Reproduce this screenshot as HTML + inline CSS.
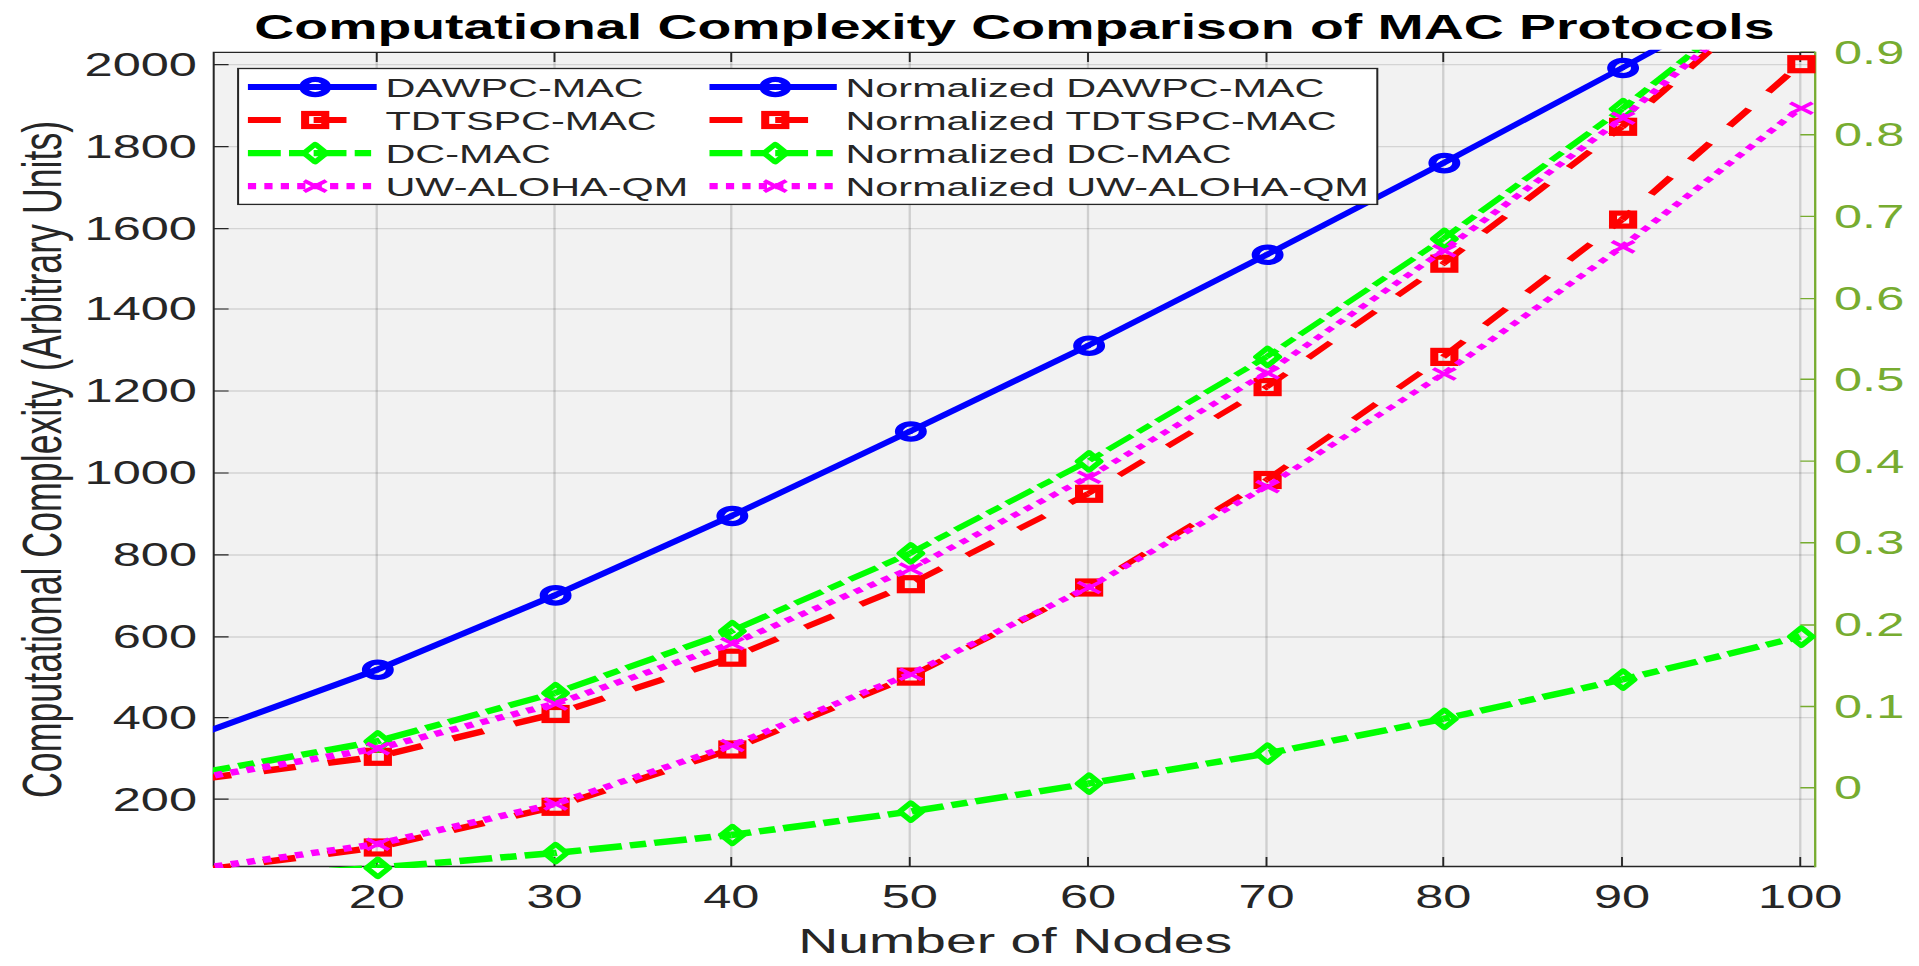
<!DOCTYPE html>
<html lang="en"><head><meta charset="utf-8"><title>Computational Complexity Comparison of MAC Protocols</title>
<style>html,body{margin:0;padding:0;background:#fff;overflow:hidden}svg{display:block}text{font-family:"Liberation Sans",Arial,sans-serif}</style></head><body>
<svg width="1919" height="966" viewBox="0 0 1919 966">
<rect x="0" y="0" width="1919" height="966" fill="#ffffff"/>
<g transform="scale(1.55,1)">
<rect x="137.87" y="52.3" width="1033.23" height="814.20" fill="#f2f2f2"/>
<path d="M243.06 52.3 V866.5 M357.74 52.3 V866.5 M471.77 52.3 V866.5 M586.94 52.3 V866.5 M701.94 52.3 V866.5 M817.10 52.3 V866.5 M931.13 52.3 V866.5 M1046.45 52.3 V866.5 M1161.45 52.3 V866.5" stroke="#262626" stroke-opacity="0.17" stroke-width="1.5" fill="none"/>
<path d="M137.87 799.20 H1171.10 M137.87 717.60 H1171.10 M137.87 636.90 H1171.10 M137.87 554.90 H1171.10 M137.87 473.00 H1171.10 M137.87 391.00 H1171.10 M137.87 309.00 H1171.10 M137.87 228.60 H1171.10 M137.87 146.60 H1171.10 M137.87 64.60 H1171.10" stroke="#262626" stroke-opacity="0.14" stroke-width="1.45" fill="none"/>
<clipPath id="clip"><rect x="137.37" y="49.8" width="1034.23" height="818.20"/></clipPath>
<path d="M243.06 866.5 v-9.6 M243.06 52.3 v9.6 M357.74 866.5 v-9.6 M357.74 52.3 v9.6 M471.77 866.5 v-9.6 M471.77 52.3 v9.6 M586.94 866.5 v-9.6 M586.94 52.3 v9.6 M701.94 866.5 v-9.6 M701.94 52.3 v9.6 M817.10 866.5 v-9.6 M817.10 52.3 v9.6 M931.13 866.5 v-9.6 M931.13 52.3 v9.6 M1046.45 866.5 v-9.6 M1046.45 52.3 v9.6 M1161.45 866.5 v-9.6 M1161.45 52.3 v9.6 M137.87 799.20 h9.6 M137.87 717.60 h9.6 M137.87 636.90 h9.6 M137.87 554.90 h9.6 M137.87 473.00 h9.6 M137.87 391.00 h9.6 M137.87 309.00 h9.6 M137.87 228.60 h9.6 M137.87 146.60 h9.6 M137.87 64.60 h9.6" stroke="#262626" stroke-width="1.2" fill="none"/>
<path d="M1171.10 787.70 h-9.6 M1171.10 706.50 h-9.6 M1171.10 625.00 h-9.6 M1171.10 542.80 h-9.6 M1171.10 461.10 h-9.6 M1171.10 379.30 h-9.6 M1171.10 298.60 h-9.6 M1171.10 216.40 h-9.6 M1171.10 134.70 h-9.6 M1171.10 52.20 h-9.6" stroke="#77ac30" stroke-width="1.4" fill="none"/>
<path d="M137.87 866.5 V52.3 H1171.10" stroke="#262626" stroke-width="1.3" fill="none"/>
<path d="M137.87 866.5 H1171.10" stroke="#262626" stroke-width="1.6" fill="none"/>
<path d="M1171.10 51.8 V867.3" stroke="#77ac30" stroke-width="1.5" fill="none"/>
<g clip-path="url(#clip)">
<path d="M127.70 734.89 L243.59 669.51" fill="none" stroke="#0000ff" stroke-width="5.75"/>
<path d="M242.56 670.13 L358.25 595.07" fill="none" stroke="#0000ff" stroke-width="5.54"/>
<path d="M357.25 595.74 L472.27 515.66" fill="none" stroke="#0000ff" stroke-width="5.42"/>
<path d="M471.29 516.35 L587.42 431.15" fill="none" stroke="#0000ff" stroke-width="5.32"/>
<path d="M586.45 431.86 L702.42 345.34" fill="none" stroke="#0000ff" stroke-width="5.29"/>
<path d="M701.46 346.07 L817.57 254.43" fill="none" stroke="#0000ff" stroke-width="5.18"/>
<path d="M816.63 255.18 L931.60 162.72" fill="none" stroke="#0000ff" stroke-width="5.14"/>
<path d="M930.67 163.48 L1046.91 67.62" fill="none" stroke="#0000ff" stroke-width="5.09"/>
<path d="M1045.99 68.39 L1161.91 -30.39" fill="none" stroke="#0000ff" stroke-width="5.02"/>
</g>
<circle cx="243.77" cy="669.80" r="7.7" fill="none" stroke="#0000ff" stroke-width="5.2"/>
<circle cx="358.45" cy="595.40" r="7.7" fill="none" stroke="#0000ff" stroke-width="5.2"/>
<circle cx="472.48" cy="516.00" r="7.7" fill="none" stroke="#0000ff" stroke-width="5.2"/>
<circle cx="587.65" cy="431.50" r="7.7" fill="none" stroke="#0000ff" stroke-width="5.2"/>
<circle cx="702.65" cy="345.70" r="7.7" fill="none" stroke="#0000ff" stroke-width="5.2"/>
<circle cx="817.81" cy="254.80" r="7.7" fill="none" stroke="#0000ff" stroke-width="5.2"/>
<circle cx="931.84" cy="163.10" r="7.7" fill="none" stroke="#0000ff" stroke-width="5.2"/>
<circle cx="1047.16" cy="68.00" r="7.7" fill="none" stroke="#0000ff" stroke-width="5.2"/>
<g clip-path="url(#clip)">
<path d="M128.23 779.00 L243.06 756.80" fill="none" stroke="#ff0000" stroke-width="6.48" stroke-dasharray="21.20 21.20" stroke-dashoffset="0.00"/>
<path d="M243.06 756.80 L357.74 714.00" fill="none" stroke="#ff0000" stroke-width="6.18" stroke-dasharray="21.20 21.20" stroke-dashoffset="32.45"/>
<path d="M357.74 714.00 L471.77 657.70" fill="none" stroke="#ff0000" stroke-width="5.92" stroke-dasharray="21.20 21.20" stroke-dashoffset="27.94"/>
<path d="M471.77 657.70 L586.94 584.20" fill="none" stroke="#ff0000" stroke-width="5.56" stroke-dasharray="21.20 21.20" stroke-dashoffset="28.22"/>
<path d="M586.94 584.20 L701.94 493.80" fill="none" stroke="#ff0000" stroke-width="5.19" stroke-dasharray="21.20 21.20" stroke-dashoffset="37.97"/>
<path d="M701.94 493.80 L817.10 387.10" fill="none" stroke="#ff0000" stroke-width="4.84" stroke-dasharray="21.20 21.20" stroke-dashoffset="15.00"/>
<path d="M817.10 387.10 L931.13 263.70" fill="none" stroke="#ff0000" stroke-width="4.85" stroke-dasharray="21.20 21.20" stroke-dashoffset="2.77"/>
<path d="M931.13 263.70 L1046.45 126.80" fill="none" stroke="#ff0000" stroke-width="5.05" stroke-dasharray="21.20 21.20" stroke-dashoffset="1.59"/>
<path d="M1046.45 126.80 L1161.45 -28.00" fill="none" stroke="#ff0000" stroke-width="5.30" stroke-dasharray="21.20 21.20" stroke-dashoffset="11.42"/>
</g>
<rect x="237.27" y="750.30" width="13.0" height="13.0" fill="none" stroke="#ff0000" stroke-width="5.2"/>
<rect x="351.95" y="707.50" width="13.0" height="13.0" fill="none" stroke="#ff0000" stroke-width="5.2"/>
<rect x="465.98" y="651.20" width="13.0" height="13.0" fill="none" stroke="#ff0000" stroke-width="5.2"/>
<rect x="581.15" y="577.70" width="13.0" height="13.0" fill="none" stroke="#ff0000" stroke-width="5.2"/>
<rect x="696.15" y="487.30" width="13.0" height="13.0" fill="none" stroke="#ff0000" stroke-width="5.2"/>
<rect x="811.31" y="380.60" width="13.0" height="13.0" fill="none" stroke="#ff0000" stroke-width="5.2"/>
<rect x="925.34" y="257.20" width="13.0" height="13.0" fill="none" stroke="#ff0000" stroke-width="5.2"/>
<rect x="1040.66" y="120.30" width="13.0" height="13.0" fill="none" stroke="#ff0000" stroke-width="5.2"/>
<g clip-path="url(#clip)">
<path d="M128.23 773.10 L243.06 741.40" fill="none" stroke="#00ff00" stroke-width="6.36" stroke-dasharray="21.20 5.30 10.60 5.30" stroke-dashoffset="0.00"/>
<path d="M243.06 741.40 L357.74 693.20" fill="none" stroke="#00ff00" stroke-width="6.08" stroke-dasharray="21.20 5.30 10.60 5.30" stroke-dashoffset="34.62"/>
<path d="M357.74 693.20 L471.77 631.20" fill="none" stroke="#00ff00" stroke-width="5.80" stroke-dasharray="21.20 5.30 10.60 5.30" stroke-dashoffset="32.11"/>
<path d="M471.77 631.20 L586.94 553.40" fill="none" stroke="#00ff00" stroke-width="5.47" stroke-dasharray="21.20 5.30 10.60 5.30" stroke-dashoffset="35.02"/>
<path d="M586.94 553.40 L701.94 461.30" fill="none" stroke="#00ff00" stroke-width="5.15" stroke-dasharray="21.20 5.30 10.60 5.30" stroke-dashoffset="4.73"/>
<path d="M701.94 461.30 L817.10 356.90" fill="none" stroke="#00ff00" stroke-width="4.89" stroke-dasharray="21.20 5.30 10.60 5.30" stroke-dashoffset="25.22"/>
<path d="M817.10 356.90 L931.13 238.80" fill="none" stroke="#00ff00" stroke-width="4.75" stroke-dasharray="21.20 5.30 10.60 5.30" stroke-dashoffset="11.43"/>
<path d="M931.13 238.80 L1046.45 109.00" fill="none" stroke="#00ff00" stroke-width="4.93" stroke-dasharray="21.20 5.30 10.60 5.30" stroke-dashoffset="6.40"/>
<path d="M1046.45 109.00 L1161.45 -33.00" fill="none" stroke="#00ff00" stroke-width="5.13" stroke-dasharray="21.20 5.30 10.60 5.30" stroke-dashoffset="10.84"/>
</g>
<path d="M243.77 732.40 L250.97 741.40 L243.77 750.40 L236.57 741.40 Z" fill="none" stroke="#00ff00" stroke-width="4.4" stroke-linejoin="round"/>
<path d="M358.45 684.20 L365.65 693.20 L358.45 702.20 L351.25 693.20 Z" fill="none" stroke="#00ff00" stroke-width="4.4" stroke-linejoin="round"/>
<path d="M472.48 622.20 L479.68 631.20 L472.48 640.20 L465.28 631.20 Z" fill="none" stroke="#00ff00" stroke-width="4.4" stroke-linejoin="round"/>
<path d="M587.65 544.40 L594.85 553.40 L587.65 562.40 L580.45 553.40 Z" fill="none" stroke="#00ff00" stroke-width="4.4" stroke-linejoin="round"/>
<path d="M702.65 452.30 L709.85 461.30 L702.65 470.30 L695.45 461.30 Z" fill="none" stroke="#00ff00" stroke-width="4.4" stroke-linejoin="round"/>
<path d="M817.81 347.90 L825.01 356.90 L817.81 365.90 L810.61 356.90 Z" fill="none" stroke="#00ff00" stroke-width="4.4" stroke-linejoin="round"/>
<path d="M931.84 229.80 L939.04 238.80 L931.84 247.80 L924.64 238.80 Z" fill="none" stroke="#00ff00" stroke-width="4.4" stroke-linejoin="round"/>
<path d="M1047.16 100.00 L1054.36 109.00 L1047.16 118.00 L1039.96 109.00 Z" fill="none" stroke="#00ff00" stroke-width="4.4" stroke-linejoin="round"/>
<g clip-path="url(#clip)">
<path d="M128.23 777.90 L243.06 748.60" fill="none" stroke="#ff00ff" stroke-width="6.40" stroke-dasharray="5.30 5.30" stroke-dashoffset="0.00"/>
<path d="M243.06 748.60 L357.74 704.00" fill="none" stroke="#ff00ff" stroke-width="6.15" stroke-dasharray="5.30 5.30" stroke-dashoffset="2.20"/>
<path d="M357.74 704.00 L471.77 643.80" fill="none" stroke="#ff00ff" stroke-width="5.84" stroke-dasharray="5.30 5.30" stroke-dashoffset="8.94"/>
<path d="M471.77 643.80 L586.94 569.00" fill="none" stroke="#ff00ff" stroke-width="5.53" stroke-dasharray="5.30 5.30" stroke-dashoffset="0.40"/>
<path d="M586.94 569.00 L701.94 477.20" fill="none" stroke="#ff00ff" stroke-width="5.16" stroke-dasharray="5.30 5.30" stroke-dashoffset="0.25"/>
<path d="M701.94 477.20 L817.10 373.00" fill="none" stroke="#ff00ff" stroke-width="4.89" stroke-dasharray="5.30 5.30" stroke-dashoffset="9.95"/>
<path d="M817.10 373.00 L931.13 250.70" fill="none" stroke="#ff00ff" stroke-width="4.83" stroke-dasharray="5.30 5.30" stroke-dashoffset="6.63"/>
<path d="M931.13 250.70 L1046.45 118.30" fill="none" stroke="#ff00ff" stroke-width="4.98" stroke-dasharray="5.30 5.30" stroke-dashoffset="4.64"/>
<path d="M1046.45 118.30 L1161.45 -30.00" fill="none" stroke="#ff00ff" stroke-width="5.22" stroke-dasharray="5.30 5.30" stroke-dashoffset="0.45"/>
</g>
<path d="M236.67 743.10 L250.87 754.10 M236.67 754.10 L250.87 743.10" fill="none" stroke="#ff00ff" stroke-width="3.3"/>
<path d="M351.35 698.50 L365.55 709.50 M351.35 709.50 L365.55 698.50" fill="none" stroke="#ff00ff" stroke-width="3.3"/>
<path d="M465.38 638.30 L479.58 649.30 M465.38 649.30 L479.58 638.30" fill="none" stroke="#ff00ff" stroke-width="3.3"/>
<path d="M580.55 563.50 L594.75 574.50 M580.55 574.50 L594.75 563.50" fill="none" stroke="#ff00ff" stroke-width="3.3"/>
<path d="M695.55 471.70 L709.75 482.70 M695.55 482.70 L709.75 471.70" fill="none" stroke="#ff00ff" stroke-width="3.3"/>
<path d="M810.71 367.50 L824.91 378.50 M810.71 378.50 L824.91 367.50" fill="none" stroke="#ff00ff" stroke-width="3.3"/>
<path d="M924.74 245.20 L938.94 256.20 M924.74 256.20 L938.94 245.20" fill="none" stroke="#ff00ff" stroke-width="3.3"/>
<path d="M1040.06 112.80 L1054.26 123.80 M1040.06 123.80 L1054.26 112.80" fill="none" stroke="#ff00ff" stroke-width="3.3"/>
<g clip-path="url(#clip)">
<path d="M128.23 870.50 L243.06 847.50" fill="none" stroke="#ff0000" stroke-width="6.47" stroke-dasharray="21.20 21.20" stroke-dashoffset="0.00"/>
<path d="M243.06 847.50 L357.74 806.80" fill="none" stroke="#ff0000" stroke-width="6.22" stroke-dasharray="21.20 21.20" stroke-dashoffset="32.60"/>
<path d="M357.74 806.80 L471.77 749.50" fill="none" stroke="#ff0000" stroke-width="5.90" stroke-dasharray="21.20 21.20" stroke-dashoffset="27.38"/>
<path d="M471.77 749.50 L586.94 676.60" fill="none" stroke="#ff0000" stroke-width="5.58" stroke-dasharray="21.20 21.20" stroke-dashoffset="28.10"/>
<path d="M586.94 676.60 L701.94 587.50" fill="none" stroke="#ff0000" stroke-width="5.22" stroke-dasharray="21.20 21.20" stroke-dashoffset="37.53"/>
<path d="M701.94 587.50 L817.10 480.00" fill="none" stroke="#ff0000" stroke-width="4.82" stroke-dasharray="21.20 21.20" stroke-dashoffset="13.75"/>
<path d="M817.10 480.00 L931.13 356.90" fill="none" stroke="#ff0000" stroke-width="4.84" stroke-dasharray="21.20 21.20" stroke-dashoffset="2.07"/>
<path d="M931.13 356.90 L1046.45 219.60" fill="none" stroke="#ff0000" stroke-width="5.05" stroke-dasharray="21.20 21.20" stroke-dashoffset="0.67"/>
<path d="M1046.45 219.60 L1161.45 64.20" fill="none" stroke="#ff0000" stroke-width="5.31" stroke-dasharray="21.20 21.20" stroke-dashoffset="10.81"/>
</g>
<rect x="237.27" y="841.00" width="13.0" height="13.0" fill="none" stroke="#ff0000" stroke-width="5.2"/>
<rect x="351.95" y="800.30" width="13.0" height="13.0" fill="none" stroke="#ff0000" stroke-width="5.2"/>
<rect x="465.98" y="743.00" width="13.0" height="13.0" fill="none" stroke="#ff0000" stroke-width="5.2"/>
<rect x="581.15" y="670.10" width="13.0" height="13.0" fill="none" stroke="#ff0000" stroke-width="5.2"/>
<rect x="696.15" y="581.00" width="13.0" height="13.0" fill="none" stroke="#ff0000" stroke-width="5.2"/>
<rect x="811.31" y="473.50" width="13.0" height="13.0" fill="none" stroke="#ff0000" stroke-width="5.2"/>
<rect x="925.34" y="350.40" width="13.0" height="13.0" fill="none" stroke="#ff0000" stroke-width="5.2"/>
<rect x="1040.66" y="213.10" width="13.0" height="13.0" fill="none" stroke="#ff0000" stroke-width="5.2"/>
<rect x="1155.66" y="57.70" width="13.0" height="13.0" fill="none" stroke="#ff0000" stroke-width="5.2"/>
<g clip-path="url(#clip)">
<path d="M128.23 880.00 L243.06 867.80" fill="none" stroke="#00ff00" stroke-width="6.56" stroke-dasharray="21.20 5.30 10.60 5.30" stroke-dashoffset="0.00"/>
<path d="M243.06 867.80 L357.74 853.10" fill="none" stroke="#00ff00" stroke-width="6.55" stroke-dasharray="21.20 5.30 10.60 5.30" stroke-dashoffset="30.96"/>
<path d="M357.74 853.10 L471.77 835.00" fill="none" stroke="#00ff00" stroke-width="6.52" stroke-dasharray="21.20 5.30 10.60 5.30" stroke-dashoffset="19.66"/>
<path d="M471.77 835.00 L586.94 811.70" fill="none" stroke="#00ff00" stroke-width="6.47" stroke-dasharray="21.20 5.30 10.60 5.30" stroke-dashoffset="8.19"/>
<path d="M586.94 811.70 L701.94 783.60" fill="none" stroke="#00ff00" stroke-width="6.41" stroke-dasharray="21.20 5.30 10.60 5.30" stroke-dashoffset="41.17"/>
<path d="M701.94 783.60 L817.10 753.60" fill="none" stroke="#00ff00" stroke-width="6.39" stroke-dasharray="21.20 5.30 10.60 5.30" stroke-dashoffset="32.64"/>
<path d="M817.10 753.60 L931.13 718.90" fill="none" stroke="#00ff00" stroke-width="6.31" stroke-dasharray="21.20 5.30 10.60 5.30" stroke-dashoffset="24.73"/>
<path d="M931.13 718.90 L1046.45 679.60" fill="none" stroke="#00ff00" stroke-width="6.25" stroke-dasharray="21.20 5.30 10.60 5.30" stroke-dashoffset="17.01"/>
<path d="M1046.45 679.60 L1161.45 636.70" fill="none" stroke="#00ff00" stroke-width="6.18" stroke-dasharray="21.20 5.30 10.60 5.30" stroke-dashoffset="11.94"/>
</g>
<path d="M243.77 858.80 L250.97 867.80 L243.77 876.80 L236.57 867.80 Z" fill="none" stroke="#00ff00" stroke-width="4.4" stroke-linejoin="round"/>
<path d="M358.45 844.10 L365.65 853.10 L358.45 862.10 L351.25 853.10 Z" fill="none" stroke="#00ff00" stroke-width="4.4" stroke-linejoin="round"/>
<path d="M472.48 826.00 L479.68 835.00 L472.48 844.00 L465.28 835.00 Z" fill="none" stroke="#00ff00" stroke-width="4.4" stroke-linejoin="round"/>
<path d="M587.65 802.70 L594.85 811.70 L587.65 820.70 L580.45 811.70 Z" fill="none" stroke="#00ff00" stroke-width="4.4" stroke-linejoin="round"/>
<path d="M702.65 774.60 L709.85 783.60 L702.65 792.60 L695.45 783.60 Z" fill="none" stroke="#00ff00" stroke-width="4.4" stroke-linejoin="round"/>
<path d="M817.81 744.60 L825.01 753.60 L817.81 762.60 L810.61 753.60 Z" fill="none" stroke="#00ff00" stroke-width="4.4" stroke-linejoin="round"/>
<path d="M931.84 709.90 L939.04 718.90 L931.84 727.90 L924.64 718.90 Z" fill="none" stroke="#00ff00" stroke-width="4.4" stroke-linejoin="round"/>
<path d="M1047.16 670.60 L1054.36 679.60 L1047.16 688.60 L1039.96 679.60 Z" fill="none" stroke="#00ff00" stroke-width="4.4" stroke-linejoin="round"/>
<path d="M1162.16 627.70 L1169.36 636.70 L1162.16 645.70 L1154.96 636.70 Z" fill="none" stroke="#00ff00" stroke-width="4.4" stroke-linejoin="round"/>
<g clip-path="url(#clip)">
<path d="M128.23 868.70 L243.06 844.20" fill="none" stroke="#ff00ff" stroke-width="6.45" stroke-dasharray="5.30 5.30" stroke-dashoffset="0.00"/>
<path d="M243.06 844.20 L357.74 804.00" fill="none" stroke="#ff00ff" stroke-width="6.23" stroke-dasharray="5.30 5.30" stroke-dashoffset="1.10"/>
<path d="M357.74 804.00 L471.77 745.50" fill="none" stroke="#ff00ff" stroke-width="5.87" stroke-dasharray="5.30 5.30" stroke-dashoffset="6.32"/>
<path d="M471.77 745.50 L586.94 674.30" fill="none" stroke="#ff00ff" stroke-width="5.61" stroke-dasharray="5.30 5.30" stroke-dashoffset="7.59"/>
<path d="M586.94 674.30 L701.94 587.50" fill="none" stroke="#ff00ff" stroke-width="5.27" stroke-dasharray="5.30 5.30" stroke-dashoffset="5.50"/>
<path d="M701.94 587.50 L817.10 486.60" fill="none" stroke="#ff00ff" stroke-width="4.96" stroke-dasharray="5.30 5.30" stroke-dashoffset="1.53"/>
<path d="M817.10 486.60 L931.13 374.00" fill="none" stroke="#ff00ff" stroke-width="4.70" stroke-dasharray="5.30 5.30" stroke-dashoffset="6.61"/>
<path d="M931.13 374.00 L1046.45 246.90" fill="none" stroke="#ff00ff" stroke-width="4.89" stroke-dasharray="5.30 5.30" stroke-dashoffset="8.25"/>
<path d="M1046.45 246.90 L1161.45 108.20" fill="none" stroke="#ff00ff" stroke-width="5.08" stroke-dasharray="5.30 5.30" stroke-dashoffset="0.08"/>
</g>
<path d="M236.67 838.70 L250.87 849.70 M236.67 849.70 L250.87 838.70" fill="none" stroke="#ff00ff" stroke-width="3.3"/>
<path d="M351.35 798.50 L365.55 809.50 M351.35 809.50 L365.55 798.50" fill="none" stroke="#ff00ff" stroke-width="3.3"/>
<path d="M465.38 740.00 L479.58 751.00 M465.38 751.00 L479.58 740.00" fill="none" stroke="#ff00ff" stroke-width="3.3"/>
<path d="M580.55 668.80 L594.75 679.80 M580.55 679.80 L594.75 668.80" fill="none" stroke="#ff00ff" stroke-width="3.3"/>
<path d="M695.55 582.00 L709.75 593.00 M695.55 593.00 L709.75 582.00" fill="none" stroke="#ff00ff" stroke-width="3.3"/>
<path d="M810.71 481.10 L824.91 492.10 M810.71 492.10 L824.91 481.10" fill="none" stroke="#ff00ff" stroke-width="3.3"/>
<path d="M924.74 368.50 L938.94 379.50 M924.74 379.50 L938.94 368.50" fill="none" stroke="#ff00ff" stroke-width="3.3"/>
<path d="M1040.06 241.40 L1054.26 252.40 M1040.06 252.40 L1054.26 241.40" fill="none" stroke="#ff00ff" stroke-width="3.3"/>
<path d="M1155.06 102.70 L1169.26 113.70 M1155.06 113.70 L1169.26 102.70" fill="none" stroke="#ff00ff" stroke-width="3.3"/>
<rect x="153.61" y="68.5" width="734.97" height="135.90" fill="#ffffff" stroke="#262626" stroke-width="1.3"/>
<path d="M159.94 87.0 H243.03" fill="none" stroke="#0000ff" stroke-width="6.199999999999999"/>
<circle cx="203.35" cy="87.00" r="7.7" fill="none" stroke="#0000ff" stroke-width="5.2"/>
<text x="248.71" y="96.60" font-size="26.7" fill="#262626">DAWPC-MAC</text>
<path d="M159.94 120.0 H243.03" fill="none" stroke="#ff0000" stroke-width="6.199999999999999" stroke-dasharray="21.20 21.20"/>
<rect x="196.85" y="113.50" width="13.0" height="13.0" fill="none" stroke="#ff0000" stroke-width="5.2"/>
<text x="248.71" y="129.60" font-size="26.7" fill="#262626">TDTSPC-MAC</text>
<path d="M159.94 153.1 H243.03" fill="none" stroke="#00ff00" stroke-width="6.199999999999999" stroke-dasharray="21.20 5.30 10.60 5.30"/>
<path d="M203.35 144.10 L210.55 153.10 L203.35 162.10 L196.15 153.10 Z" fill="none" stroke="#00ff00" stroke-width="4.4" stroke-linejoin="round"/>
<text x="248.71" y="162.70" font-size="26.7" fill="#262626">DC-MAC</text>
<path d="M159.94 186.1 H243.03" fill="none" stroke="#ff00ff" stroke-width="6.199999999999999" stroke-dasharray="5.30 5.30"/>
<path d="M196.25 180.60 L210.45 191.60 M196.25 191.60 L210.45 180.60" fill="none" stroke="#ff00ff" stroke-width="3.3"/>
<text x="248.71" y="195.70" font-size="26.7" fill="#262626">UW-ALOHA-QM</text>
<path d="M457.74 87.0 H539.87" fill="none" stroke="#0000ff" stroke-width="6.199999999999999"/>
<circle cx="500.19" cy="87.00" r="7.7" fill="none" stroke="#0000ff" stroke-width="5.2"/>
<text x="545.48" y="96.60" font-size="26.7" fill="#262626">Normalized DAWPC-MAC</text>
<path d="M457.74 120.0 H539.87" fill="none" stroke="#ff0000" stroke-width="6.199999999999999" stroke-dasharray="21.20 21.20"/>
<rect x="493.69" y="113.50" width="13.0" height="13.0" fill="none" stroke="#ff0000" stroke-width="5.2"/>
<text x="545.48" y="129.60" font-size="26.7" fill="#262626">Normalized TDTSPC-MAC</text>
<path d="M457.74 153.1 H539.87" fill="none" stroke="#00ff00" stroke-width="6.199999999999999" stroke-dasharray="21.20 5.30 10.60 5.30"/>
<path d="M500.19 144.10 L507.39 153.10 L500.19 162.10 L492.99 153.10 Z" fill="none" stroke="#00ff00" stroke-width="4.4" stroke-linejoin="round"/>
<text x="545.48" y="162.70" font-size="26.7" fill="#262626">Normalized DC-MAC</text>
<path d="M457.74 186.1 H539.87" fill="none" stroke="#ff00ff" stroke-width="6.199999999999999" stroke-dasharray="5.30 5.30"/>
<path d="M493.09 180.60 L507.29 191.60 M493.09 191.60 L507.29 180.60" fill="none" stroke="#ff00ff" stroke-width="3.3"/>
<text x="545.48" y="195.70" font-size="26.7" fill="#262626">Normalized UW-ALOHA-QM</text>
<text x="127.10" y="810.60" font-size="32.6" fill="#262626" text-anchor="end">200</text>
<text x="127.10" y="729.00" font-size="32.6" fill="#262626" text-anchor="end">400</text>
<text x="127.10" y="648.30" font-size="32.6" fill="#262626" text-anchor="end">600</text>
<text x="127.10" y="566.30" font-size="32.6" fill="#262626" text-anchor="end">800</text>
<text x="127.10" y="484.40" font-size="32.6" fill="#262626" text-anchor="end">1000</text>
<text x="127.10" y="402.40" font-size="32.6" fill="#262626" text-anchor="end">1200</text>
<text x="127.10" y="320.40" font-size="32.6" fill="#262626" text-anchor="end">1400</text>
<text x="127.10" y="240.00" font-size="32.6" fill="#262626" text-anchor="end">1600</text>
<text x="127.10" y="158.00" font-size="32.6" fill="#262626" text-anchor="end">1800</text>
<text x="127.10" y="76.00" font-size="32.6" fill="#262626" text-anchor="end">2000</text>
<text x="1183.23" y="799.20" font-size="32.6" fill="#77ac30">0</text>
<text x="1183.23" y="718.00" font-size="32.6" fill="#77ac30">0.1</text>
<text x="1183.23" y="636.50" font-size="32.6" fill="#77ac30">0.2</text>
<text x="1183.23" y="554.30" font-size="32.6" fill="#77ac30">0.3</text>
<text x="1183.23" y="472.60" font-size="32.6" fill="#77ac30">0.4</text>
<text x="1183.23" y="390.80" font-size="32.6" fill="#77ac30">0.5</text>
<text x="1183.23" y="310.10" font-size="32.6" fill="#77ac30">0.6</text>
<text x="1183.23" y="227.90" font-size="32.6" fill="#77ac30">0.7</text>
<text x="1183.23" y="146.20" font-size="32.6" fill="#77ac30">0.8</text>
<text x="1183.23" y="63.70" font-size="32.6" fill="#77ac30">0.9</text>
<text x="243.06" y="907.6" font-size="32.6" fill="#262626" text-anchor="middle">20</text>
<text x="357.74" y="907.6" font-size="32.6" fill="#262626" text-anchor="middle">30</text>
<text x="471.77" y="907.6" font-size="32.6" fill="#262626" text-anchor="middle">40</text>
<text x="586.94" y="907.6" font-size="32.6" fill="#262626" text-anchor="middle">50</text>
<text x="701.94" y="907.6" font-size="32.6" fill="#262626" text-anchor="middle">60</text>
<text x="817.10" y="907.6" font-size="32.6" fill="#262626" text-anchor="middle">70</text>
<text x="931.13" y="907.6" font-size="32.6" fill="#262626" text-anchor="middle">80</text>
<text x="1046.45" y="907.6" font-size="32.6" fill="#262626" text-anchor="middle">90</text>
<text x="1161.45" y="907.6" font-size="32.6" fill="#262626" text-anchor="middle">100</text>
<text x="654.48" y="38.7" font-size="35.75" font-weight="bold" fill="#000000" text-anchor="middle">Computational Complexity Comparison of MAC Protocols</text>
<text x="654.98" y="953.0" font-size="35.75" fill="#262626" text-anchor="middle">Number of Nodes</text>
<text transform="translate(39.35,459.40) rotate(-90)" font-size="35.75" fill="#262626" text-anchor="middle">Computational Complexity (Arbitrary Units)</text>
</g></svg></body></html>
